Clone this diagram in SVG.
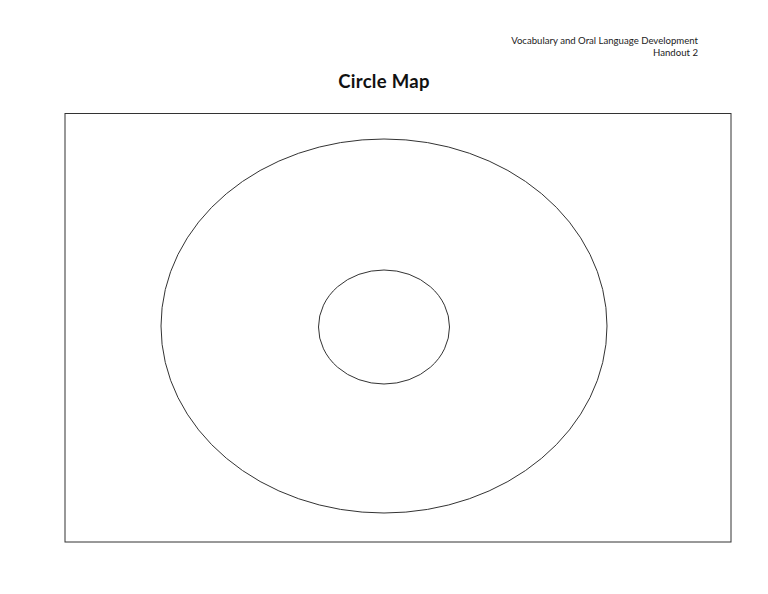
<svg xmlns="http://www.w3.org/2000/svg" width="768" height="594" viewBox="0 0 768 594">
<style>
.hdr{font-family:"Lato","Liberation Sans",sans-serif;font-size:9.6px;fill:#222;text-anchor:end}
.title{font-family:"Lato","Liberation Sans",sans-serif;font-size:18.5px;font-weight:bold;fill:#111;text-anchor:middle;letter-spacing:0.3px}
.shape{fill:none;stroke:#333;stroke-width:1}
</style>
<rect width="768" height="594" fill="#fff"/>
<g id="header">
<text class="hdr" x="698" y="44">Vocabulary and Oral Language Development</text>
<text class="hdr" x="698" y="56">Handout 2</text>
</g>
<text class="title" x="384" y="88">Circle Map</text>
<g id="frame"><rect class="shape" x="65" y="113.5" width="666" height="428.5" stroke-width="1.3"/></g>
<g id="outer"><ellipse class="shape" cx="384" cy="326" rx="223" ry="187"/></g>
<g id="inner"><ellipse class="shape" cx="384" cy="327" rx="65.5" ry="57"/></g>
<g id="connectors"/>
</svg>
